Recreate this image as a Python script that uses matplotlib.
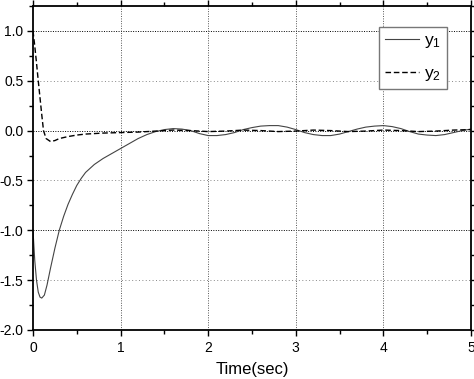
import numpy as np
import matplotlib
matplotlib.use("Agg")
import matplotlib.pyplot as plt
from matplotlib.ticker import MultipleLocator

plt.rcParams['font.family'] = ['Liberation Sans', 'DejaVu Sans']
plt.rcParams['mathtext.fontset'] = 'custom'
plt.rcParams['mathtext.rm'] = 'Liberation Sans'
plt.rcParams['mathtext.it'] = 'Liberation Sans'

# y1 response
t1 = [0.00, 0.02, 0.04, 0.06, 0.08, 0.10, 0.13, 0.16, 0.20, 0.25, 0.30,
      0.35, 0.40, 0.45, 0.50, 0.55, 0.60, 0.70, 0.80, 0.90, 1.00, 1.10,
      1.20, 1.30, 1.40, 1.50, 1.60, 1.70, 1.80, 1.90, 2.00, 2.10, 2.20,
      2.30, 2.40, 2.50, 2.60, 2.70, 2.80, 2.90, 3.00, 3.10, 3.20, 3.30,
      3.40, 3.50, 3.60, 3.70, 3.80, 3.90, 4.00, 4.10, 4.20, 4.30, 4.40,
      4.50, 4.60, 4.70, 4.80, 4.90, 5.00]
y1 = [-1.00, -1.30, -1.50, -1.62, -1.67, -1.68, -1.65, -1.55, -1.38, -1.18, -1.00,
      -0.86, -0.74, -0.64, -0.55, -0.48, -0.42, -0.34, -0.28, -0.23, -0.18, -0.13,
      -0.08, -0.04, -0.01, 0.01, 0.02, 0.015, 0.00, -0.03, -0.05, -0.05, -0.04,
      -0.02, 0.01, 0.03, 0.045, 0.05, 0.05, 0.035, 0.01, -0.02, -0.04, -0.05,
      -0.05, -0.035, -0.01, 0.015, 0.035, 0.045, 0.05, 0.04, 0.02, -0.01, -0.035,
      -0.045, -0.05, -0.04, -0.02, 0.00, 0.015]

# y2 response
t2 = [0.00, 0.02, 0.04, 0.06, 0.08, 0.10, 0.12, 0.15, 0.20, 0.25, 0.30,
      0.40, 0.50, 0.60, 0.80, 1.00, 1.20, 1.40, 1.60, 1.80, 2.00, 2.20,
      2.40, 2.60, 2.80, 3.00, 3.20, 3.40, 3.60, 3.80, 4.00, 4.20, 4.40,
      4.60, 4.80, 5.00]
y2 = [1.00, 0.85, 0.68, 0.50, 0.33, 0.16, 0.00, -0.08, -0.11, -0.10, -0.08,
      -0.06, -0.045, -0.035, -0.025, -0.02, -0.015, -0.005, 0.005, 0.00, -0.01, -0.005,
      0.005, 0.00, -0.01, -0.005, 0.005, 0.00, -0.01, -0.005, 0.005, 0.00, -0.01,
      -0.005, 0.005, 0.01]

fig = plt.figure(figsize=(4.74, 3.79), dpi=100)
ax = fig.add_axes([0.0696, 0.1293, 0.924, 0.855])

# grid: integer lines darker, half lines lighter
for v in [1.0, 0.0, -1.0]:
    ax.axhline(v, color="black", lw=0.7, ls=(0, (1, 1.5)), zorder=0)
for v in [0.5, -0.5, -1.5]:
    ax.axhline(v, color="#888888", lw=0.7, ls=(0, (1, 2.5)), zorder=0)
for v in [1, 2, 3, 4]:
    ax.axvline(v, color="#555555", lw=0.7, ls=(0, (1, 1.5)), zorder=0)

ax.plot(t1, y1, "-", color="#444444", lw=0.8, label=r"$\mathregular{y_1}$")
ax.plot(t2, y2, "--", color="black", lw=1.0, dashes=(4, 2),
        label=r"$\mathregular{y_2}$")

ax.set_xlim(0, 5)
ax.set_ylim(-2.0, 1.25)
ax.xaxis.set_minor_locator(MultipleLocator(0.5))
ax.yaxis.set_minor_locator(MultipleLocator(0.25))
ax.set_xticks([0, 1, 2, 3, 4, 5])
ax.set_yticks([-2.0, -1.5, -1.0, -0.5, 0.0, 0.5, 1.0])
ax.set_yticklabels(["-2.0", "-1.5", "-1.0", "-0.5", "0.0", "0.5", "1.0"])

ax.tick_params(which="both", direction="out", top=True, right=True,
               labelsize=10)
ax.tick_params(axis="x", pad=4)
ax.tick_params(axis="y", pad=3)
ax.tick_params(which="major", length=4, width=1)
ax.tick_params(which="minor", length=3, width=1)
for s in ax.spines.values():
    s.set_linewidth(1.3)

ax.set_xlabel("Time(sec)", fontsize=12, labelpad=5)

leg = ax.legend(loc="upper right", bbox_to_anchor=(0.945, 0.935),
                borderaxespad=0, fontsize=12.5, frameon=True, fancybox=False,
                edgecolor="#777777", framealpha=1, handlelength=2.0,
                labelspacing=0.9, handletextpad=0.25, borderpad=0.35)
leg.get_frame().set_linewidth(1.0)

fig.savefig("out.png", dpi=100)
